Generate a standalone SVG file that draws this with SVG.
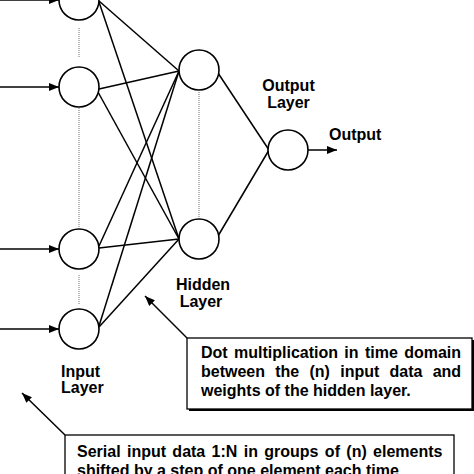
<svg xmlns="http://www.w3.org/2000/svg" width="474" height="474" viewBox="0 0 474 474">
<defs>
<marker id="ah" markerWidth="10" markerHeight="8" refX="10" refY="4" orient="auto" markerUnits="userSpaceOnUse">
<path d="M0,0 L10,4 L0,8 Z" fill="#000"/>
</marker>
<style>
.n{fill:#fff;stroke:#000;stroke-width:1.6}
.e{stroke:#000;stroke-width:1.5;fill:none}
.d{stroke:#777;stroke-width:1;stroke-dasharray:1,1;fill:none}
.t{font-family:"Liberation Sans",Arial,sans-serif;font-weight:bold;font-size:16px;fill:#000}
.b{fill:#fff;stroke:#000;stroke-width:1.3}
</style>
</defs>
<rect width="474" height="474" fill="#fff"/>
<g id="guides">
<line class="d" x1="79" y1="28" x2="79" y2="58"/>
<line class="d" x1="79" y1="108" x2="79" y2="228"/>
<line class="d" x1="79" y1="275" x2="79" y2="304"/>
<line class="d" x1="199" y1="92" x2="199" y2="218"/>
</g>
<g id="connectors">
<line class="e" x1="0" y1="0" x2="59" y2="0" marker-end="url(#ah)"/>
<line class="e" x1="0" y1="87" x2="59" y2="87" marker-end="url(#ah)"/>
<line class="e" x1="0" y1="249" x2="59" y2="249" marker-end="url(#ah)"/>
<line class="e" x1="0" y1="329" x2="59" y2="329" marker-end="url(#ah)"/>
<line class="e" x1="99" y1="1" x2="179" y2="71"/>
<line class="e" x1="99" y1="2" x2="179" y2="239"/>
<line class="e" x1="99" y1="89" x2="179" y2="71"/>
<line class="e" x1="98" y1="92" x2="179" y2="239"/>
<line class="e" x1="99" y1="246" x2="179" y2="71"/>
<line class="e" x1="99" y1="248" x2="179" y2="239"/>
<line class="e" x1="99" y1="326" x2="179" y2="71"/>
<line class="e" x1="99" y1="327" x2="179" y2="239"/>
<line class="e" x1="218" y1="73" x2="269" y2="150"/>
<line class="e" x1="218" y1="236" x2="269" y2="150"/>
<line class="e" x1="308" y1="150" x2="337" y2="150" marker-end="url(#ah)"/>
<line class="e" x1="187" y1="338" x2="145" y2="296" marker-end="url(#ah)"/>
<line class="e" x1="65" y1="435" x2="22" y2="393" marker-end="url(#ah)"/>
</g>
<g id="in1"><circle class="n" cx="79" cy="0" r="20"/></g>
<g id="in2"><circle class="n" cx="79" cy="87" r="20"/></g>
<g id="in3"><circle class="n" cx="79" cy="249" r="20"/></g>
<g id="in4"><circle class="n" cx="79" cy="329" r="20"/></g>
<g id="hid1"><circle class="n" cx="199" cy="70" r="20"/></g>
<g id="hid2"><circle class="n" cx="199" cy="239" r="20"/></g>
<g id="out"><circle class="n" cx="288" cy="150" r="20"/></g>
<g id="labels">
<text class="t" x="288.5" y="91" text-anchor="middle">Output</text>
<text class="t" x="288.5" y="108" text-anchor="middle">Layer</text>
<text class="t" x="329" y="140">Output</text>
<text class="t" x="203" y="290" text-anchor="middle">Hidden</text>
<text class="t" x="201" y="307" text-anchor="middle">Layer</text>
<text class="t" x="61" y="377">Input</text>
<text class="t" x="61" y="393">Layer</text>
</g>
<g id="note1">
<rect x="189" y="340" width="285" height="71" fill="#000"/>
<rect class="b" x="187" y="338" width="285" height="71"/>
<text class="t" x="201" y="358" word-spacing="1.9">Dot multiplication in time domain</text>
<text class="t" x="201" y="377" word-spacing="5.8">between the (n) input data and</text>
<text class="t" x="201" y="396">weights of the hidden layer.</text>
</g>
<g id="note2">
<rect class="b" x="65" y="435" width="389" height="60"/>
<text class="t" x="77" y="457" word-spacing="1.9">Serial input data 1:N in groups of (n) elements</text>
<text class="t" x="77" y="476">shifted by a step of one element each time</text>
</g>
</svg>
